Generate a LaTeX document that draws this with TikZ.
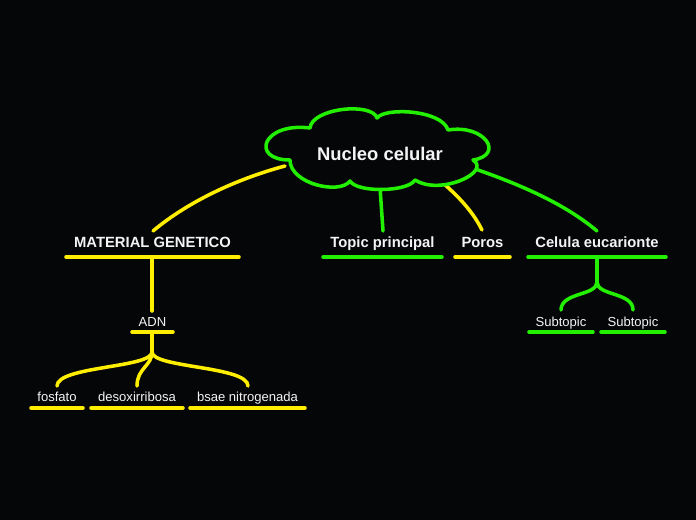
\documentclass[tikz,border=0pt]{standalone}
\usepackage{fontspec}
\setmainfont{Liberation Sans}
\definecolor{bg}{HTML}{050608}
\definecolor{grn}{HTML}{22F000}
\definecolor{yel}{HTML}{FFEE00}
\definecolor{txt}{HTML}{F4F4F4}
\begin{document}
\begin{tikzpicture}[x=0.75pt,y=-0.75pt,
  yline/.style={draw=yel,line width=2.65pt,line cap=round},
  gline/.style={draw=grn,line width=2.65pt,line cap=round},
  big/.style={text=txt,font=\fontsize{13.8pt}{16pt}\selectfont\bfseries,inner sep=0pt,anchor=base},
  mid/.style={text=txt,font=\fontsize{11.1pt}{13pt}\selectfont\bfseries,inner sep=0pt,anchor=base},
  small/.style={text=txt,font=\fontsize{9.8pt}{12pt}\selectfont,inner sep=0pt,anchor=base}]
\fill[bg] (0,0) rectangle (696,520);
\useasboundingbox (0,0) rectangle (696,520);
% coordinates on cloud
\coordinate (cL) at (285,166);
\coordinate (cB) at (380,187);
\coordinate (cBR) at (443,183);
\coordinate (cR) at (478,170);
% text nodes
\node[big] (nucleo) at (380,160.5) {Nucleo celular};
\node[mid] (mat) at (152.5,247.5) {MATERIAL GENETICO};
\node[mid] (topic) at (382.5,247.5) {Topic principal};
\node[mid] (poros) at (482.5,247.5) {Poros};
\node[mid] (celula) at (597,247.5) {Celula eucarionte};
\node[small] (adn) at (152.5,326) {ADN};
\node[small] (fos) at (57,401) {fosfato};
\node[small] (des) at (137,401) {desoxirribosa};
\node[small] (bsae) at (247.5,401) {bsae nitrogenada};
\node[small] (sub1) at (561,326) {Subtopic};
\node[small] (sub2) at (633,326) {Subtopic};
% underline coordinates
\coordinate (matL) at (66,257); \coordinate (matR) at (239,257); \coordinate (matC) at (152,257);
\coordinate (topL) at (323,257); \coordinate (topR) at (442,257);
\coordinate (porL) at (455,257); \coordinate (porR) at (510,257);
\coordinate (celL) at (528,257); \coordinate (celR) at (666,257); \coordinate (celC) at (597,257);
\coordinate (adnL) at (132,332); \coordinate (adnR) at (173,332); \coordinate (adnC) at (152,332);
\coordinate (fosL) at (31,408); \coordinate (fosR) at (83,408);
\coordinate (desL) at (91,408); \coordinate (desR) at (183,408);
\coordinate (bsaL) at (190,408); \coordinate (bsaR) at (305,408);
\coordinate (s1L) at (529,332); \coordinate (s1R) at (593,332);
\coordinate (s2L) at (601,332); \coordinate (s2R) at (665,332);
% connector tops
\coordinate (matT) at (153,231);
\coordinate (topT) at (383,231);
\coordinate (porT) at (482,230);
\coordinate (celT) at (597,231);
\coordinate (adnT) at (152,311);
\coordinate (adnS) at (152,352);
\coordinate (fosT) at (57,386);
\coordinate (desT) at (137,386);
\coordinate (bsaT) at (248,386);
\coordinate (celS) at (597,282);
\coordinate (s1T) at (561,310);
\coordinate (s2T) at (633,310);
% connectors from cloud
\draw[yline] (matT) .. controls (190,200) and (240,178) .. (cL);
\draw[gline] (cB) -- (topT);
\draw[yline] (cBR) .. controls (460,198) and (473,212) .. (porT);
\draw[gline] (cR) .. controls (530,188) and (570,208) .. (celT);
% cloud
\draw[grn,line width=2.65pt,fill=bg,line join=round]
  (310,128) .. controls (312,108) and (372,102) .. (377,118)
  .. controls (385,107) and (442,110) .. (448,130)
  .. controls (485,124) and (505,155) .. (473,160)
  .. controls (492,172) and (440,196) .. (415,180)
  .. controls (408,192) and (357,193) .. (350,181)
  .. controls (340,195) and (290,184) .. (290,160)
  .. controls (250,160) and (262,122) .. cycle;
\node[big] at (nucleo.base) {Nucleo celular};
% underlines
\draw[yline] (matL) -- (matR);
\draw[gline] (topL) -- (topR);
\draw[yline] (porL) -- (porR);
\draw[gline] (celL) -- (celR);
\draw[yline] (adnL) -- (adnR);
\draw[yline] (fosL) -- (fosR);
\draw[yline] (desL) -- (desR);
\draw[yline] (bsaL) -- (bsaR);
\draw[gline] (s1L) -- (s1R);
\draw[gline] (s2L) -- (s2R);
% sub connectors
\draw[yline] (matC) -- (adnT);
\draw[yline] (adnC) -- (adnS);
\draw[yline] (adnS) .. controls (152,368) and (57,366) .. (fosT);
\draw[yline] (adnS) .. controls (152,366) and (137,368) .. (desT);
\draw[yline] (adnS) .. controls (152,368) and (248,366) .. (bsaT);
\draw[gline] (celC) -- (celS);
\draw[gline] (celS) .. controls (597,296) and (561,292) .. (s1T);
\draw[gline] (celS) .. controls (597,296) and (633,292) .. (s2T);
\end{tikzpicture}
\end{document}
